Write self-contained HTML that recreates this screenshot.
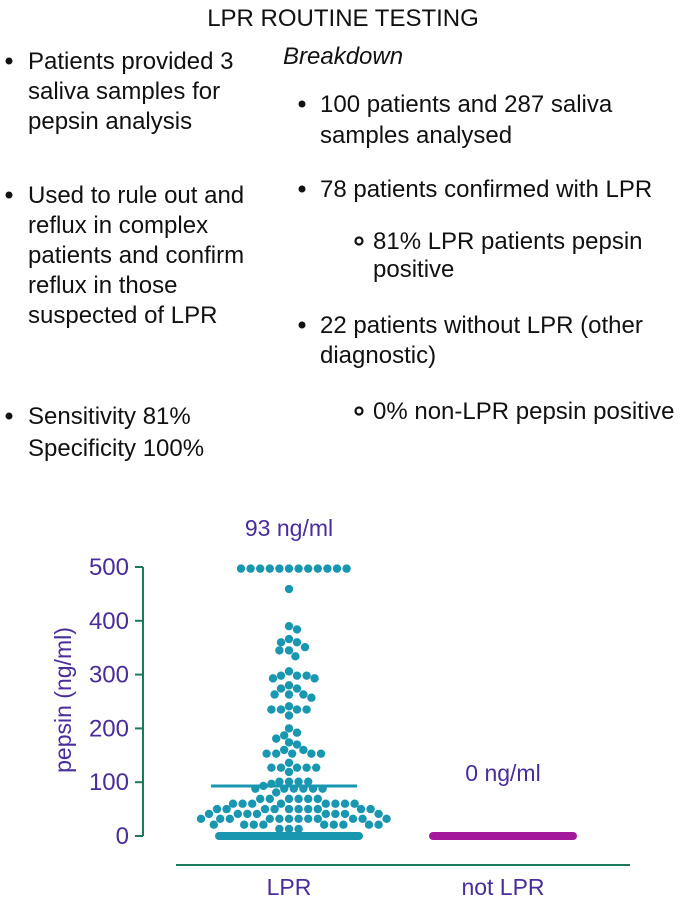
<!DOCTYPE html>
<html><head><meta charset="utf-8"><style>
body{margin:0;background:#fff;}
svg{display:block;font-family:"Liberation Sans",Arial,sans-serif;}
.t{font-size:24px;fill:#111;}
</style></head><body>
<svg id="chart" width="685" height="907" viewBox="0 0 685 907" xmlns="http://www.w3.org/2000/svg">
<g>
<text x="343" y="26" text-anchor="middle" class="t" font-size="23">LPR ROUTINE TESTING</text>
<circle cx="9" cy="61" r="3.5" fill="#111"/>
<text class="t" x="28" y="69">Patients provided 3</text>
<text class="t" x="28" y="99">saliva samples for</text>
<text class="t" x="28" y="129">pepsin analysis</text>
<circle cx="9" cy="195" r="3.5" fill="#111"/>
<text class="t" x="28" y="203">Used to rule out and</text>
<text class="t" x="28" y="233">reflux in complex</text>
<text class="t" x="28" y="263">patients and confirm</text>
<text class="t" x="28" y="293">reflux in those</text>
<text class="t" x="28" y="323">suspected of LPR</text>
<circle cx="9" cy="416" r="3.5" fill="#111"/>
<text class="t" x="28" y="424">Sensitivity 81%</text>
<text class="t" x="28" y="456">Specificity 100%</text>
<text class="t" x="283" y="64" font-style="italic">Breakdown</text>
<circle cx="302" cy="104" r="3.5" fill="#111"/>
<text class="t" x="320" y="112">100 patients and 287 saliva</text>
<text class="t" x="320" y="143">samples analysed</text>
<circle cx="302" cy="189" r="3.5" fill="#111"/>
<text class="t" x="320" y="197">78 patients confirmed with LPR</text>
<circle cx="359" cy="241" r="3.5" fill="none" stroke="#111" stroke-width="2.2"/>
<text class="t" x="373" y="249">81% LPR patients pepsin</text>
<text class="t" x="373" y="277">positive</text>
<circle cx="302" cy="325" r="3.5" fill="#111"/>
<text class="t" x="320" y="333">22 patients without LPR (other</text>
<text class="t" x="320" y="363">diagnostic)</text>
<circle cx="359" cy="411" r="3.5" fill="none" stroke="#111" stroke-width="2.2"/>
<text class="t" x="373" y="419">0% non-LPR pepsin positive</text>
</g>
<g id="plot"></g>
</svg>
<script>
const yTicks = [0,100,200,300,400,500];
const categories = ["LPR","not LPR"];
const medians = [93, 0];
const medianLabels = ["93 ng/ml","0 ng/ml"];
const lprValues = [
 497,497,497,497,497,497,497,497,497,497,497,497,
 459,390,384,366,360,360,351,345,345,334,
 306,298,298,298,293,293,280,274,274,263,263,263,257,
 241,235,235,235,235,224,200,192,187,181,174,170,160,160,
 153,153,153,153,153,136,127,127,127,127,127,119,
 101,101,101,101,97,93,88,88,88,88,88,88,81,
 69,69,69,69,69,69,60,60,60,60,60,60,60,60,
 50,50,50,50,50,50,50,50,50,50,41,41,41,41,41,41,41,41,
 32,32,32,32,32,32,32,32,32,32,32,32,21,21,21,21,21,21,21,21,21,13,13,13
];
const zeroCounts = [60, 22];

const NS="http://www.w3.org/2000/svg";
const g=document.getElementById('plot');
const y0=836, pxPer=(836-567)/500;
function yS(v){return y0-v*pxPer;}
const catX=[289,503];
function xS(i){return catX[i];}
function mk(tag,attrs){const e=document.createElementNS(NS,tag);for(const k in attrs)e.setAttribute(k,attrs[k]);g.appendChild(e);return e;}
const axisCol="#1c7a5c", labCol="#4a2c9c", teal="#1996b0", mag="#a3199c";
let e=mk('line',{x1:143,y1:yS(500),x2:143,y2:yS(0),stroke:axisCol,'stroke-width':2});


yTicks.forEach(t=>{
 let l=mk('line',{x1:135,y1:yS(t),x2:143,y2:yS(t),stroke:axisCol,'stroke-width':2});
 
 
 let tx=mk('text',{x:129,y:yS(t)+8,'text-anchor':'end','font-size':24,fill:labCol});
 tx.textContent=t;
 
 
});
let yt=mk('text',{x:0,y:0,'text-anchor':'middle','font-size':23,fill:labCol,transform:'translate(71,700) rotate(-90)'});
yt.textContent='pepsin (ng/ml)';


e=mk('line',{x1:176,y1:865,x2:630,y2:865,stroke:axisCol,'stroke-width':2});


categories.forEach((c,i)=>{
 let tx=mk('text',{x:xS(i),y:895,'text-anchor':'middle','font-size':23,fill:labCol});
 tx.textContent=c;
 
 
});
const bandCol=[teal,mag];
zeroCounts.forEach((n,i)=>{
 const w=n>0?148:0;
 let b=mk('line',{x1:xS(i)-w/2+4,y1:yS(0),x2:xS(i)+w/2-4,y2:yS(0),stroke:bandCol[i],'stroke-width':8,'stroke-linecap':'round'});
 
 
});
const placed=[]; const r=4.2, minD=8.2;
lprValues.forEach(v=>{
 const cy=yS(v); let cx=xS(0);
 for(let k=0;k<200;k++){
  const off=(k%2?1:-1)*Math.ceil(k/2)*1.6; const tx=xS(0)+off;
  if(placed.every(p=>Math.hypot(p[0]-tx,p[1]-cy)>=minD)){cx=tx;break;}
 }
 placed.push([cx,cy]);
 let c=mk('circle',{cx:cx,cy:cy,r:r,fill:teal});
 
 
});
medians.forEach((m,i)=>{
 if(i===0){
  let l=mk('line',{x1:xS(i)-78,y1:yS(m),x2:xS(i)+68,y2:yS(m),stroke:teal,'stroke-width':3});
  
  
 }
 let tx=mk('text',{x:xS(i),y:i===0?536:781,'text-anchor':'middle','font-size':23,fill:labCol});
 tx.textContent=medianLabels[i];
 
 
});
</script>
</body></html>
